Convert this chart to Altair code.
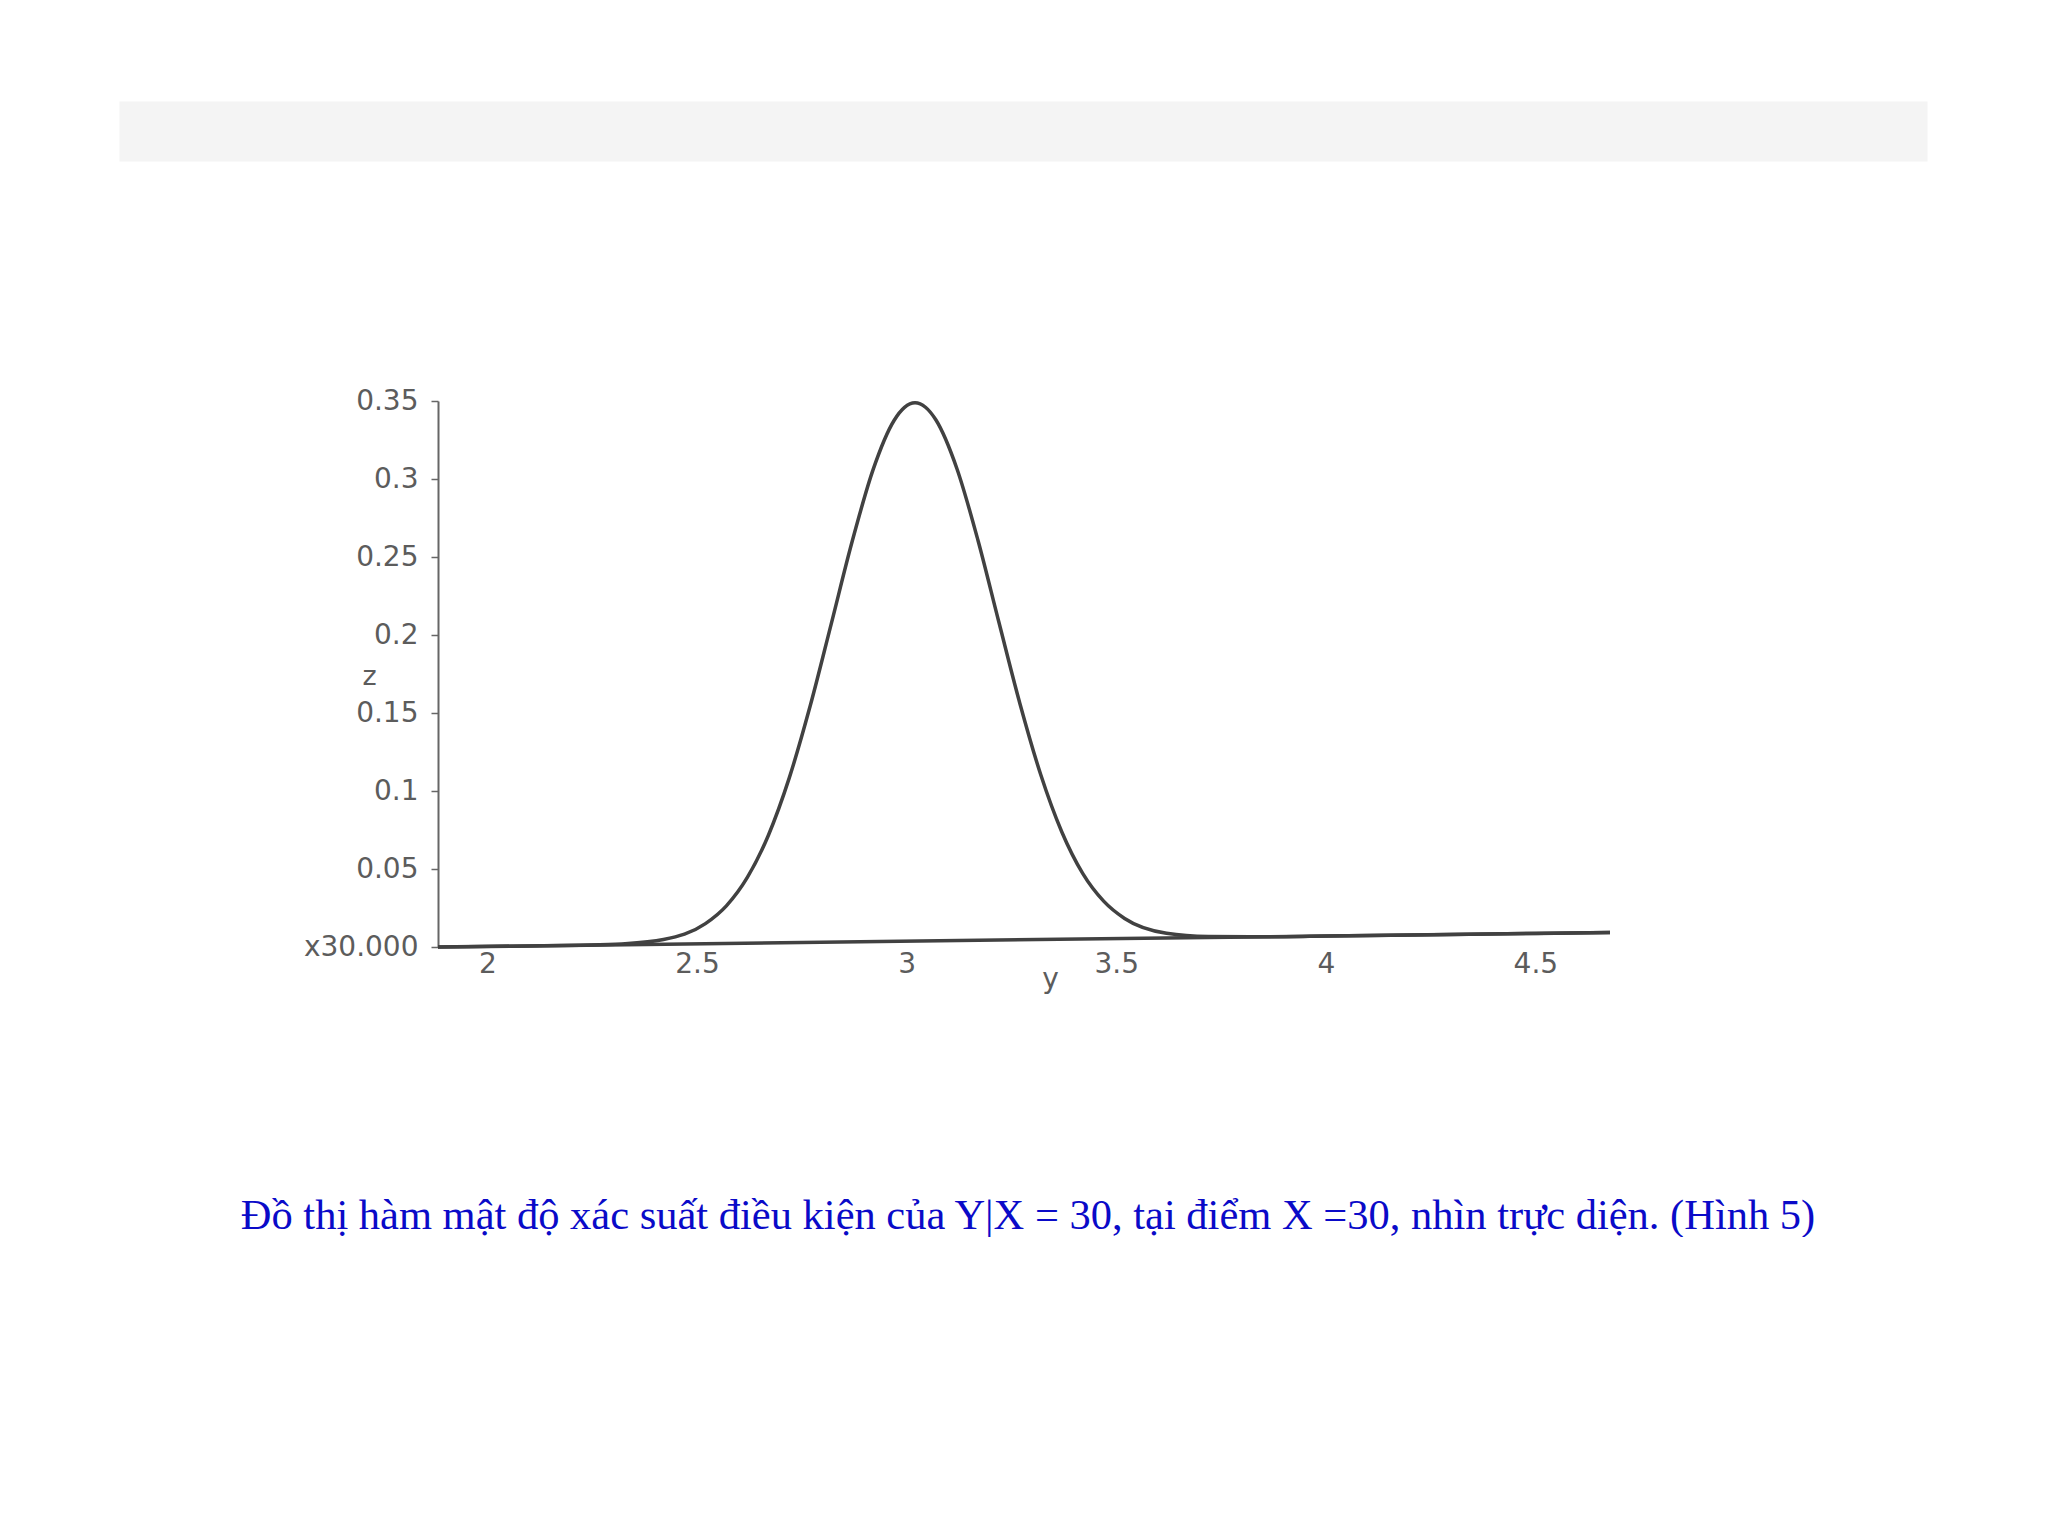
import altair as alt
import pandas as pd

# ---- data ----
curve_y = [1.882, 2.10, 2.22, 2.32, 2.42, 2.52, 2.57, 2.62, 2.67, 2.72,
           2.77, 2.82, 2.87, 2.92, 2.97, 2.995, 3.02, 3.045, 3.07, 3.12,
           3.17, 3.22, 3.27, 3.32, 3.37, 3.42, 3.47, 3.52, 3.62, 3.72,
           3.82, 4.00, 4.30, 4.678]
curve_z = [0.0000, 0.0007, 0.0012, 0.0020, 0.0048, 0.0150, 0.0264, 0.0446, 0.0715, 0.1084,
           0.1546, 0.2070, 0.2599, 0.3060, 0.3375, 0.3459, 0.3488, 0.3460, 0.3378, 0.3066,
           0.2609, 0.2083, 0.1563, 0.1104, 0.0739, 0.0472, 0.0294, 0.0183, 0.0088, 0.0067,
           0.0065, 0.0070, 0.0080, 0.0093]

# slanted base line of the projected plot (y at both ends, z offset)
base_y = [1.882, 4.678]
base_z = [0.0, 0.0093]

x_ticks = [2, 2.5, 3, 3.5, 4, 4.5]
z_ticks = [0, 0.05, 0.1, 0.15, 0.2, 0.25, 0.3, 0.35]

caption = "Đồ thị hàm mật độ xác suất điều kiện của Y|X = 30, tại điểm X =30, nhìn trực diện. (Hình 5)"

curve_df = pd.DataFrame({"y": curve_y, "z": curve_z})
base_df = pd.DataFrame({"y": base_y, "z": base_z})

GRAY = "#5c5c5c"
LINE = "#414141"

x_enc = alt.X(
    "y:Q",
    scale=alt.Scale(domain=[1.882, 4.678], nice=False, zero=False),
    axis=alt.Axis(
        values=x_ticks, format="~g", grid=False, ticks=False, domain=False,
        labelFont="DejaVu Sans", labelFontSize=28, labelColor=GRAY,
        labelPadding=3, labelFlush=False,
        title="y", titleFont="DejaVu Sans", titleFontSize=28,
        titleFontWeight="normal", titleColor=GRAY,
        titleX=612, titleY=18,
    ),
)
y_enc = alt.Y(
    "z:Q",
    scale=alt.Scale(domain=[0, 0.35], nice=False, zero=True),
    axis=alt.Axis(
        values=z_ticks, grid=False,
        labelExpr="datum.value == 0 ? 'x30.000' : format(datum.value, '~g')",
        labelFont="DejaVu Sans", labelFontSize=28, labelColor=GRAY,
        labelPadding=13, labelFlush=False,
        domainColor="#666666", domainWidth=2,
        tickColor="#666666", tickSize=7, tickWidth=1.5,
        title="z", titleFont="DejaVu Sans", titleFontSize=27,
        titleFontWeight="normal", titleColor=GRAY,
        titleAngle=0, titleAlign="center", titleBaseline="middle",
        titleX=-69, titleY=275,
    ),
)

base_line = alt.Chart(base_df).mark_line(color=LINE, strokeWidth=3.5).encode(x=x_enc, y=y_enc)
curve = alt.Chart(curve_df).mark_line(color=LINE, strokeWidth=3.5, interpolate="monotone").encode(
    x=alt.X("y:Q"), y=alt.Y("z:Q")
)

main = alt.layer(base_line, curve).properties(
    width=1172, height=546,
    view=alt.ViewBackground(stroke="transparent"),
)

dummy = pd.DataFrame({"a": [0]})
band = alt.Chart(dummy).mark_text(text="").encode(x=alt.value(0), y=alt.value(0)).properties(
    width=1808, height=60,
    view=alt.ViewBackground(fill="#f4f4f4", stroke="transparent"),
)
spacer = alt.Chart(dummy).mark_text(text="").encode(x=alt.value(0), y=alt.value(0)).properties(
    width=182, height=1,
    view=alt.ViewBackground(stroke="transparent"),
)

chart = alt.vconcat(
    band,
    alt.hconcat(spacer, main, spacing=0),
    spacing=224,
).properties(
    title=alt.TitleParams(
        text=caption, orient="bottom", anchor="middle",
        font="Liberation Serif", fontSize=42.5, fontWeight="normal",
        color="#0a0ac8", offset=201, dx=5,
    ),
    padding={"left": 110, "top": 86, "right": 0, "bottom": 0},
    background="white",
).configure_view(stroke="transparent")

chart.save("out.html", embed_options={"renderer": "svg", "actions": False})
